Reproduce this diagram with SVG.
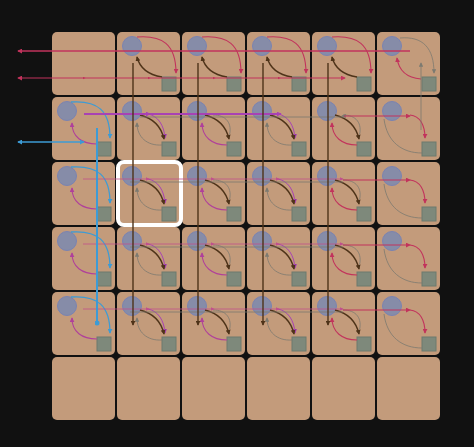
<svg xmlns="http://www.w3.org/2000/svg" width="474" height="447" viewBox="0 0 474 447">
<style>
.tile{fill:#c39b7b}
.cir{fill:#868ca8;stroke:#7a83b2;stroke-width:1}
.sq{fill:#7e897b;stroke:#6d7a6e;stroke-width:1}
.c{fill:none}
.red{stroke:#c2335c;stroke-width:1.1}
.brn{stroke:#4e3319;stroke-width:1.4}
.pur{stroke:#a842b4;stroke-width:1}
.mag{stroke:#b0409a;stroke-width:1.1}
.pnk{stroke:#c0508c;stroke-width:0.8}
.gry{stroke:#7c7a70;stroke-width:0.8}
.blu{stroke:#3d9bd5;stroke-width:1.3}
</style>
<defs>
<marker id="mr" viewBox="0 0 6 6" refX="5" refY="3" markerWidth="5" markerHeight="5" markerUnits="userSpaceOnUse" orient="auto-start-reverse"><path d="M0,0L6,3L0,6z" fill="#c2335c"/></marker>
<marker id="mb" viewBox="0 0 6 6" refX="5" refY="3" markerWidth="5" markerHeight="5" markerUnits="userSpaceOnUse" orient="auto-start-reverse"><path d="M0,0L6,3L0,6z" fill="#4e3319"/></marker>
<marker id="mp" viewBox="0 0 6 6" refX="5" refY="3" markerWidth="5" markerHeight="5" markerUnits="userSpaceOnUse" orient="auto-start-reverse"><path d="M0,0L6,3L0,6z" fill="#a842b4"/></marker>
<marker id="mm" viewBox="0 0 6 6" refX="5" refY="3" markerWidth="5" markerHeight="5" markerUnits="userSpaceOnUse" orient="auto-start-reverse"><path d="M0,0L6,3L0,6z" fill="#b0409a"/></marker>
<marker id="mk" viewBox="0 0 6 6" refX="5" refY="3" markerWidth="4" markerHeight="4" markerUnits="userSpaceOnUse" orient="auto-start-reverse"><path d="M0,0L6,3L0,6z" fill="#c0508c"/></marker>
<marker id="mg" viewBox="0 0 6 6" refX="5" refY="3" markerWidth="4.5" markerHeight="4.5" markerUnits="userSpaceOnUse" orient="auto-start-reverse"><path d="M0,0L6,3L0,6z" fill="#7c7a70"/></marker>
<marker id="ml" viewBox="0 0 6 6" refX="5" refY="3" markerWidth="5" markerHeight="5" markerUnits="userSpaceOnUse" orient="auto-start-reverse"><path d="M0,0L6,3L0,6z" fill="#3d9bd5"/></marker>
<marker id="mrs" viewBox="0 0 6 6" refX="3" refY="3" markerWidth="3" markerHeight="3" markerUnits="userSpaceOnUse" orient="auto"><path d="M0,0L6,3L0,6z" fill="#c2335c"/></marker>
<marker id="dot" viewBox="0 0 6 6" refX="3" refY="3" markerWidth="5" markerHeight="5" markerUnits="userSpaceOnUse"><circle cx="3" cy="3" r="3" fill="#3d9bd5"/></marker>
<g id="node-pair"><circle class="cir" cx="15" cy="14" r="9.5"/><rect class="sq" x="45" y="45" width="14" height="14"/></g>
</defs>
<rect width="474" height="447" fill="#111111"/>
<g id="tiles">
<g id="t00"><rect class="tile" x="52" y="32" width="63" height="63" rx="5"/></g>
<g id="t10"><rect class="tile" x="117" y="32" width="63" height="63" rx="5"/><use href="#node-pair" x="117" y="32"/></g>
<g id="t20"><rect class="tile" x="182" y="32" width="63" height="63" rx="5"/><use href="#node-pair" x="182" y="32"/></g>
<g id="t30"><rect class="tile" x="247" y="32" width="63" height="63" rx="5"/><use href="#node-pair" x="247" y="32"/></g>
<g id="t40"><rect class="tile" x="312" y="32" width="63" height="63" rx="5"/><use href="#node-pair" x="312" y="32"/></g>
<g id="t50"><rect class="tile" x="377" y="32" width="63" height="63" rx="5"/><use href="#node-pair" x="377" y="32"/></g>

<g id="t01"><rect class="tile" x="52" y="97" width="63" height="63" rx="5"/><use href="#node-pair" x="52" y="97"/></g>
<g id="t11"><rect class="tile" x="117" y="97" width="63" height="63" rx="5"/><use href="#node-pair" x="117" y="97"/></g>
<g id="t21"><rect class="tile" x="182" y="97" width="63" height="63" rx="5"/><use href="#node-pair" x="182" y="97"/></g>
<g id="t31"><rect class="tile" x="247" y="97" width="63" height="63" rx="5"/><use href="#node-pair" x="247" y="97"/></g>
<g id="t41"><rect class="tile" x="312" y="97" width="63" height="63" rx="5"/><use href="#node-pair" x="312" y="97"/></g>
<g id="t51"><rect class="tile" x="377" y="97" width="63" height="63" rx="5"/><use href="#node-pair" x="377" y="97"/></g>

<g id="t02"><rect class="tile" x="52" y="162" width="63" height="63" rx="5"/><use href="#node-pair" x="52" y="162"/></g>
<g id="t12"><rect class="tile" x="117" y="162" width="63" height="63" rx="5"/><use href="#node-pair" x="117" y="162"/></g>
<g id="t22"><rect class="tile" x="182" y="162" width="63" height="63" rx="5"/><use href="#node-pair" x="182" y="162"/></g>
<g id="t32"><rect class="tile" x="247" y="162" width="63" height="63" rx="5"/><use href="#node-pair" x="247" y="162"/></g>
<g id="t42"><rect class="tile" x="312" y="162" width="63" height="63" rx="5"/><use href="#node-pair" x="312" y="162"/></g>
<g id="t52"><rect class="tile" x="377" y="162" width="63" height="63" rx="5"/><use href="#node-pair" x="377" y="162"/></g>

<g id="t03"><rect class="tile" x="52" y="227" width="63" height="63" rx="5"/><use href="#node-pair" x="52" y="227"/></g>
<g id="t13"><rect class="tile" x="117" y="227" width="63" height="63" rx="5"/><use href="#node-pair" x="117" y="227"/></g>
<g id="t23"><rect class="tile" x="182" y="227" width="63" height="63" rx="5"/><use href="#node-pair" x="182" y="227"/></g>
<g id="t33"><rect class="tile" x="247" y="227" width="63" height="63" rx="5"/><use href="#node-pair" x="247" y="227"/></g>
<g id="t43"><rect class="tile" x="312" y="227" width="63" height="63" rx="5"/><use href="#node-pair" x="312" y="227"/></g>
<g id="t53"><rect class="tile" x="377" y="227" width="63" height="63" rx="5"/><use href="#node-pair" x="377" y="227"/></g>

<g id="t04"><rect class="tile" x="52" y="292" width="63" height="63" rx="5"/><use href="#node-pair" x="52" y="292"/></g>
<g id="t14"><rect class="tile" x="117" y="292" width="63" height="63" rx="5"/><use href="#node-pair" x="117" y="292"/></g>
<g id="t24"><rect class="tile" x="182" y="292" width="63" height="63" rx="5"/><use href="#node-pair" x="182" y="292"/></g>
<g id="t34"><rect class="tile" x="247" y="292" width="63" height="63" rx="5"/><use href="#node-pair" x="247" y="292"/></g>
<g id="t44"><rect class="tile" x="312" y="292" width="63" height="63" rx="5"/><use href="#node-pair" x="312" y="292"/></g>
<g id="t54"><rect class="tile" x="377" y="292" width="63" height="63" rx="5"/><use href="#node-pair" x="377" y="292"/></g>

<g id="t05"><rect class="tile" x="52" y="357" width="63" height="63" rx="5"/></g>
<g id="t15"><rect class="tile" x="117" y="357" width="63" height="63" rx="5"/></g>
<g id="t25"><rect class="tile" x="182" y="357" width="63" height="63" rx="5"/></g>
<g id="t35"><rect class="tile" x="247" y="357" width="63" height="63" rx="5"/></g>
<g id="t45"><rect class="tile" x="312" y="357" width="63" height="63" rx="5"/></g>
<g id="t55"><rect class="tile" x="377" y="357" width="63" height="63" rx="5"/></g>
</g>
<g id="highlight"><rect x="118" y="162" width="63" height="63" rx="6" fill="none" stroke="#ffffff" stroke-width="4"/></g>
<defs>
<g id="pA"><path class="c red" d="M20,5 C45,3 59,12 59,41" marker-end="url(#mr)"/><path class="c brn" d="M45,45 C33,43 23,37 20,25" marker-end="url(#mb)"/></g>
<g id="pF"><path class="c gry" d="M23,6 C46,4 57,16 57,41" marker-end="url(#mg)"/><path class="c red" d="M44,47 C32,46 22,40 20,26" marker-end="url(#mr)"/></g>
<g id="pC"><path class="c blu" d="M19,5 C46,3 58,14 58,41" marker-end="url(#ml)"/><path class="c mag" d="M45,47 C30,47 20,40 20,26" marker-end="url(#mm)"/></g>
<g id="pB"><path class="c gry" d="M45,48 C30,49 20,40 20,26" marker-end="url(#mg)"/><path class="c pur" d="M31,17 C41,19 47,28 48,41" marker-end="url(#mp)"/><path class="c brn" d="M23,18 C35,21 44,29 47,42" marker-end="url(#mb)"/></g>
<g id="pD2"><path class="c gry" d="M31,18 C44,18 51,26 47,40"/><path class="c brn" d="M23,18 C35,21 44,29 47,42" marker-end="url(#mb)"/><path class="c mag" d="M45,48 C30,48 20,40 20,26" marker-end="url(#mm)"/></g>
<g id="pD4"><path class="c gry" d="M31,18 C44,18 51,26 47,40"/><path class="c brn" d="M23,18 C35,21 44,29 47,42" marker-end="url(#mb)"/><path class="c red" d="M45,48 C30,48 20,40 20,26" marker-end="url(#mr)"/></g>
<g id="pE"><path class="c gry" d="M7,22 C10,45 25,56 45,56"/><path class="c red" d="M33,18 C43,19 48,28 48,41" marker-end="url(#mr)"/></g>
</defs>
<g id="connectors">
<use href="#pA" x="117" y="32"/><use href="#pA" x="182" y="32"/><use href="#pA" x="247" y="32"/><use href="#pA" x="312" y="32"/><use href="#pF" x="377" y="32"/>
<use href="#pC" x="52" y="97"/><use href="#pB" x="117" y="97"/><use href="#pD2" x="182" y="97"/><use href="#pB" x="247" y="97"/><use href="#pD4" x="312" y="97"/><use href="#pE" x="377" y="97"/>
<use href="#pC" x="52" y="162"/><use href="#pB" x="117" y="162"/><use href="#pD2" x="182" y="162"/><use href="#pB" x="247" y="162"/><use href="#pD4" x="312" y="162"/><use href="#pE" x="377" y="162"/>
<use href="#pC" x="52" y="227"/><use href="#pB" x="117" y="227"/><use href="#pD2" x="182" y="227"/><use href="#pB" x="247" y="227"/><use href="#pD4" x="312" y="227"/><use href="#pE" x="377" y="227"/>
<use href="#pC" x="52" y="292"/><use href="#pB" x="117" y="292"/><use href="#pD2" x="182" y="292"/><use href="#pB" x="247" y="292"/><use href="#pD4" x="312" y="292"/><use href="#pE" x="377" y="292"/>
<!-- row 0 horizontals -->
<path class="c" stroke="#c2335c" stroke-width="1.6" d="M410,51 H18" marker-end="url(#mr)"/>
<path class="c red" stroke-width="0.9" d="M18,78 H84 H149 H214 H279 H345" marker-start="url(#mr)" marker-mid="url(#mrs)" marker-end="url(#mr)"/>
<!-- row 1 horizontals -->
<path class="c blu" d="M84,142 H18" marker-start="url(#ml)" marker-end="url(#ml)"/>
<path class="c gry" d="M344,117 H140"/>
<path class="c" stroke="#a842b4" stroke-width="1.8" d="M84,114 H150 H281" marker-mid="url(#mp)" marker-end="url(#mp)"/>
<path class="c gry" d="M342,116 h2" marker-end="url(#mg)" transform="rotate(180 343 116)"/>
<path class="c red" d="M344,116 H410" marker-end="url(#mr)"/>
<!-- rows 2-4 horizontals -->
<path class="c gry" d="M130,182 H343"/><path class="c pnk" d="M83,179 H149 H214 H279 H343" marker-mid="url(#mk)" marker-end="url(#mk)"/><path class="c red" d="M343,180 H410" marker-end="url(#mr)"/>
<path class="c gry" d="M130,247 H343"/><path class="c pnk" d="M83,244 H149 H214 H279 H343" marker-mid="url(#mk)" marker-end="url(#mk)"/><path class="c red" d="M343,245 H410" marker-end="url(#mr)"/>
<path class="c gry" d="M130,312 H343"/><path class="c pnk" d="M83,309 H149 H214 H279 H343" marker-mid="url(#mk)" marker-end="url(#mk)"/><path class="c red" d="M343,310 H410" marker-end="url(#mr)"/>
<!-- verticals -->
<path class="c brn" d="M133,63 V325" marker-end="url(#mb)"/>
<path class="c brn" d="M198,63 V325" marker-end="url(#mb)"/>
<path class="c brn" d="M263,63 V325" marker-end="url(#mb)"/>
<path class="c brn" d="M328,63 V325" marker-end="url(#mb)"/>
<path class="c" stroke="#3d9bd5" stroke-width="2" d="M97,128 V323" marker-end="url(#dot)"/>
<path class="c gry" stroke-width="1.2" d="M421,130 V63" marker-end="url(#mg)"/>
</g>
</svg>
